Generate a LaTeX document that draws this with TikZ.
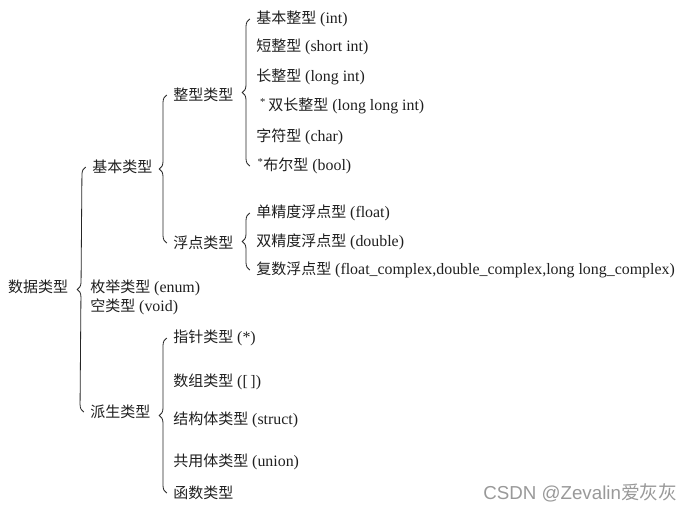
\documentclass[tikz,border=0pt]{standalone}
\usepackage{fontspec}
\setmainfont{Liberation Serif}[Scale=1.06]
\newfontfamily\cjk{Noto Sans CJK SC}
\newfontfamily\wmfont{Liberation Sans}
\newcommand{\zh}[1]{{\cjk #1}}
\usetikzlibrary{decorations.pathreplacing}

\begin{document}
\begin{tikzpicture}[x=0.8pt, y=-0.8pt, font=\fontsize{12}{14}\selectfont, brc/.style={decorate, decoration={brace, amplitude=6pt}, line width=0.65pt, black!85}]
\tikzstyle{lf}=[anchor=west, inner sep=0pt, text=black!88]
\useasboundingbox (0,0) rectangle (692,512);
\node[lf] (R) at (8,287) {\zh{数据类型}};
\node[lf] (JB) at (92,167) {\zh{基本类型}};
\node[lf] (MJ) at (90,288) {\zh{枚举类型} (enum)};
\node[lf] (K) at (90,307) {\zh{空类型} (void)};
\node[lf] (PS) at (90,412) {\zh{派生类型}};
\node[lf] (ZX) at (173,95) {\zh{整型类型}};
\node[lf] (FD) at (173,243) {\zh{浮点类型}};
\node[lf] (c1) at (256,19) {\zh{基本整型} (int)};
\node[lf] (c2) at (256,47) {\zh{短整型} (short int)};
\node[lf] (c3) at (256,77) {\zh{长整型} (long int)};
\node[lf] (c4) at (256,106) {\hspace{3pt}\textsuperscript{*}\hspace{2pt}\zh{双长整型} (long long int)};
\node[lf] (c5) at (256,137) {\zh{字符型} (char)};
\node[lf] (c6) at (256,166) {\hspace{1pt}\textsuperscript{*}\zh{布尔型} (bool)};
\node[lf] (f1) at (256,213) {\zh{单精度浮点型} (float)};
\node[lf] (f2) at (256,242) {\zh{双精度浮点型} (double)};
\node[lf] (f3) at (256,270) {\zh{复数浮点型} (float\_complex,double\_complex,long long\_complex)};
\node[lf] (P1) at (173,338) {\zh{指针类型} (*)};
\node[lf] (P2) at (173,382) {\zh{数组类型} ([\,])};
\node[lf] (P3) at (173,420) {\zh{结构体类型} (struct)};
\node[lf] (P4) at (173,462) {\zh{共用体类型} (union)};
\node[lf] (P5) at (173,493) {\zh{函数类型}};
\foreach \a/\b in {c6/c1, f3/f1, FD/ZX, P5/P1, PS/JB}{\draw[brc] ([xshift=-5pt]\a.west) -- ([xshift=-5pt]\b.west);}
\node[lf, text=black!40, font=\wmfont\fontsize{15}{17}\selectfont] (wm) at (483,493) {CSDN @Zevalin\zh{爱灰灰}};
\end{tikzpicture}
\end{document}
